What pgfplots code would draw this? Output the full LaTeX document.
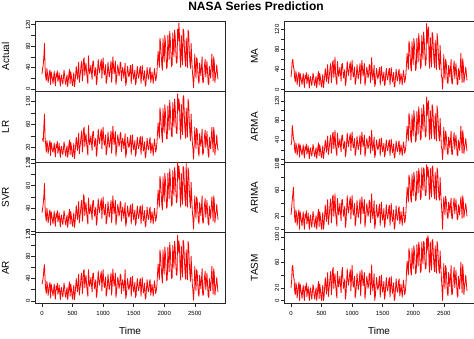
\documentclass[border=0pt]{standalone}
\usepackage{fontspec}
\setmainfont{Liberation Sans}
\usepackage{pgfplots}
\usepackage{pgfplotstable}
\pgfplotsset{compat=1.18}

\pgfplotstableread{
x A LR SVR AR MA ARMA ARIMA TASM
0 28 35 32 30 25 30 22 20
10 38 35 40 36 38 36 33 32
20 45 30 48 42 58 70 45 55
30 60 57 62 58 60 58 55 54
40 85 78 84 65 45 42 65 38
50 40 37 42 38 40 38 35 34
60 22 25 25 20 22 20 18 15
70 15 12 17 13 15 13 10 9
80 38 32 40 35 36 34 30 28
90 28 25 30 26 28 26 23 22
100 12 10 14 10 10 9 6 4
110 20 17 22 18 20 18 15 14
120 30 26 32 28 30 28 25 22
130 35 32 37 33 35 33 30 29
140 8 6 10 5 6 5 0 0
150 32 29 34 30 32 30 27 26
160 25 22 27 24 25 23 20 18
170 18 15 20 16 18 16 13 12
180 10 12 12 9 10 9 5 3
190 22 19 24 20 22 20 17 16
200 33 28 35 30 32 30 27 24
210 15 12 17 13 15 13 10 9
220 6 4 8 3 4 3 0 0
230 28 25 30 26 28 26 23 22
240 22 20 24 20 22 20 18 16
250 34 31 36 32 34 32 29 28
260 14 10 16 12 12 11 8 6
270 20 17 22 18 20 18 15 14
280 30 27 32 28 30 28 25 22
290 16 13 18 14 16 14 11 10
300 5 3 7 2 3 2 0 0
310 22 19 24 20 22 20 17 16
320 26 22 28 24 26 24 22 20
330 14 11 16 12 14 12 9 8
340 9 8 11 7 8 7 3 2
350 20 17 22 18 20 18 15 14
360 35 30 36 32 33 31 28 25
370 25 22 27 23 25 23 20 19
380 12 10 14 10 11 10 6 5
390 8 5 10 6 8 6 3 2
400 20 18 22 18 20 18 15 14
410 26 23 28 24 26 24 21 20
420 4 3 6 2 3 2 0 0
430 15 12 17 13 15 13 10 9
440 28 25 30 26 28 26 24 22
450 36 33 38 34 36 34 31 30
460 10 8 12 8 9 8 4 3
470 32 29 34 30 32 30 27 26
480 24 22 26 22 24 22 20 18
490 12 9 14 10 12 10 7 6
500 6 4 8 3 5 4 0 0
510 20 17 22 18 20 18 15 14
520 30 27 32 28 30 28 26 24
530 4 1 6 2 4 2 0 0
540 12 10 14 10 12 11 6 5
550 26 23 28 24 26 24 21 20
560 42 38 45 40 42 40 38 36
570 30 27 32 28 30 28 25 24
580 18 15 20 16 16 15 12 10
590 35 32 37 33 35 33 30 29
600 50 45 52 48 50 48 46 44
610 12 9 14 10 12 10 7 6
620 22 20 24 20 20 19 17 16
630 32 29 34 30 32 30 27 26
640 45 40 47 44 45 43 40 38
650 52 49 54 50 52 50 47 46
660 15 12 17 13 14 13 10 9
670 28 25 30 26 28 26 23 22
680 55 52 64 54 54 52 50 48
690 58 55 60 56 58 56 53 52
700 25 22 27 23 24 22 20 19
710 40 37 42 38 40 38 35 34
720 48 44 50 46 65 60 55 42
730 30 27 32 28 30 28 25 24
740 20 18 22 18 18 17 15 14
750 10 7 12 8 10 8 5 4
760 62 58 58 56 56 54 48 46
770 40 37 42 38 40 38 35 34
780 28 25 30 26 26 24 22 21
790 35 32 37 33 35 33 30 29
800 44 40 46 42 44 42 40 38
810 30 27 32 28 30 28 25 24
820 18 15 20 16 17 16 13 12
830 50 47 52 48 50 48 45 44
840 52 48 54 50 52 50 46 52
850 38 35 40 36 38 36 33 32
860 24 22 26 22 23 22 20 19
870 32 29 34 30 32 30 27 26
880 40 36 42 38 40 38 36 34
890 8 5 10 6 8 6 3 2
900 14 12 16 12 13 12 10 9
910 36 33 38 34 36 34 31 30
920 55 52 57 54 56 54 52 50
930 40 37 42 38 40 38 35 34
940 30 27 32 28 28 26 25 24
950 38 35 40 36 38 36 33 32
960 48 45 50 46 48 46 44 42
970 55 52 57 53 55 53 50 49
980 20 18 22 18 19 18 16 15
990 42 39 44 40 42 40 37 36
1000 58 55 60 56 58 56 52 55
1010 36 33 38 34 36 34 31 30
1020 26 24 28 24 25 24 22 21
1030 34 31 36 32 34 32 29 28
1040 45 42 47 43 45 43 40 38
1050 10 7 12 8 10 8 5 4
1060 16 14 18 14 15 14 12 11
1070 30 27 32 28 30 28 25 24
1080 50 47 52 48 50 48 45 43
1090 35 32 37 33 35 33 30 29
1100 22 20 24 20 21 20 18 17
1110 30 27 32 28 30 28 25 24
1120 42 38 44 40 42 40 38 36
1130 52 49 54 50 52 50 47 46
1140 12 10 14 10 11 10 8 7
1150 35 32 37 33 35 33 30 29
1160 60 57 62 57 58 56 50 48
1170 42 39 44 40 42 40 37 36
1180 28 25 30 26 27 26 24 23
1190 38 35 40 36 38 36 33 32
1200 52 48 54 50 52 50 46 44
1210 8 5 10 6 8 6 3 2
1220 18 16 20 16 17 16 14 13
1230 32 29 34 30 32 30 27 26
1240 45 42 47 43 45 43 40 38
1250 36 33 38 34 36 34 31 30
1260 24 22 26 22 23 22 20 19
1270 30 27 32 28 30 28 25 24
1280 50 46 52 48 50 48 45 43
1290 48 45 50 46 48 46 43 42
1300 15 13 17 13 14 13 10 9
1310 30 27 32 28 30 28 25 24
1320 40 36 42 38 64 60 55 56
1330 32 29 34 30 32 30 27 26
1340 20 18 22 18 19 18 16 15
1350 34 31 36 32 34 32 29 28
1360 48 44 50 56 48 46 44 42
1370 6 3 8 4 6 4 1 0
1380 12 10 14 10 11 10 8 7
1390 28 25 30 26 28 26 23 22
1400 42 38 44 40 42 40 38 36
1410 32 29 34 30 32 30 27 26
1420 22 20 24 20 21 20 18 17
1430 26 23 28 24 26 24 21 20
1440 38 35 40 36 38 36 34 32
1450 44 41 46 42 44 42 39 38
1460 10 8 12 8 9 8 6 5
1470 28 25 30 26 28 26 23 22
1480 46 42 48 44 46 44 42 40
1490 30 27 32 28 30 28 25 24
1500 18 16 20 16 17 16 14 13
1510 25 22 27 23 25 23 20 19
1520 35 32 37 33 35 33 32 30
1530 8 5 10 6 8 6 3 2
1540 12 10 14 10 11 10 8 7
1550 30 27 32 28 30 28 25 24
1560 42 38 44 40 42 40 38 36
1570 28 25 30 26 28 26 23 22
1580 20 18 22 18 19 18 16 15
1590 26 23 28 24 26 24 21 20
1600 38 35 40 36 38 36 34 32
1610 42 39 44 40 42 40 37 36
1620 10 8 12 8 9 8 6 5
1630 25 22 27 23 25 23 20 19
1640 44 40 46 42 44 42 40 38
1650 30 27 32 28 30 28 25 24
1660 16 14 18 14 15 14 12 11
1670 22 19 24 20 22 20 17 16
1680 34 30 36 32 34 32 30 28
1690 5 2 7 3 5 3 0 0
1700 8 6 10 6 7 6 4 3
1710 24 21 26 22 24 22 19 18
1720 40 36 42 38 40 38 36 34
1730 28 25 30 26 28 26 23 22
1740 18 16 20 16 17 16 14 13
1750 22 19 24 20 22 20 17 16
1760 36 33 38 34 36 34 32 30
1770 40 37 42 38 40 38 35 34
1780 12 10 14 10 11 10 8 7
1790 20 17 22 18 20 18 15 14
1800 32 28 34 30 32 30 28 26
1810 22 19 24 20 22 20 17 16
1820 10 6 12 8 9 8 6 5
1830 25 22 27 23 25 23 20 19
1840 38 35 40 36 38 36 34 32
1850 28 25 30 26 28 26 23 22
1860 15 12 17 13 14 13 10 9
1870 20 17 22 18 20 18 15 14
1880 30 27 32 28 30 28 26 24
1890 50 45 52 48 50 48 45 44
1900 70 62 72 66 72 68 65 62
1910 55 49 57 52 57 55 57 54
1920 40 36 42 38 40 38 42 40
1930 95 89 97 92 97 95 84 82
1940 85 78 88 82 88 84 78 75
1950 65 59 67 62 67 65 64 62
1960 45 42 47 44 45 43 48 46
1970 35 29 37 32 37 35 42 40
1980 95 88 96 92 96 92 85 82
1990 72 66 74 69 74 72 68 66
2000 50 46 52 48 50 48 52 50
2010 100 94 102 97 102 100 88 86
2020 88 80 90 84 90 86 80 78
2030 60 54 62 57 62 60 60 58
2040 38 35 40 36 38 36 44 42
2050 42 36 44 39 44 42 47 45
2060 100 92 102 96 102 98 90 88
2070 78 72 80 75 80 78 73 71
2080 55 50 57 52 55 52 56 54
2090 108 102 110 105 112 108 94 92
2100 92 85 94 90 95 92 86 84
2110 65 59 67 62 67 65 64 62
2120 42 40 44 40 42 40 46 44
2130 45 39 47 42 47 45 50 48
2140 105 98 107 100 108 104 95 92
2150 82 76 84 79 84 82 75 73
2160 60 55 62 58 60 58 60 58
2170 110 104 112 107 115 112 95 93
2180 98 90 100 95 100 96 92 90
2190 70 64 72 67 72 70 67 65
2200 48 45 50 46 48 46 52 50
2210 50 44 52 47 52 50 53 51
2220 112 113 122 118 132 128 100 98
2230 90 84 92 87 92 90 81 79
2240 123 104 115 108 118 112 96 102
2250 100 94 102 97 125 120 88 96
2260 58 52 60 56 58 56 58 56
2270 40 34 42 37 42 40 46 44
2280 100 95 102 98 104 100 94 92
2290 72 66 74 69 74 72 68 66
2300 45 42 47 43 45 43 50 48
2310 112 106 114 109 114 112 96 94
2320 108 110 110 104 110 106 98 96
2330 78 72 80 75 80 78 73 71
2340 55 50 57 52 55 52 56 54
2350 42 36 44 39 44 42 47 45
2360 95 88 120 92 98 94 88 86
2370 68 62 70 65 70 68 66 64
2380 40 38 42 38 40 38 45 43
2390 110 104 112 107 112 110 95 93
2400 105 96 104 100 100 97 90 88
2410 72 66 74 69 74 72 68 66
2420 50 45 52 48 50 48 50 48
2430 38 32 40 35 40 38 45 43
2440 85 78 86 80 88 84 80 78
2450 60 54 62 57 62 60 60 58
2460 35 30 35 30 30 28 40 38
2470 20 18 22 18 22 20 25 22
2480 2 0 3 1 1 0 0 0
2490 25 22 27 23 25 23 28 24
2500 65 55 62 62 70 66 50 58
2510 40 35 42 38 42 40 38 37
2520 20 18 22 18 20 19 22 18
2530 58 53 60 56 60 58 51 55
2540 55 50 56 52 55 52 45 50
2550 32 27 34 30 34 32 32 29
2560 15 12 17 12 14 13 18 12
2570 10 5 12 8 12 10 17 7
2580 48 44 50 46 48 46 42 44
2590 38 33 40 36 40 38 37 35
2600 25 22 27 22 25 24 25 22
2610 40 35 42 38 42 40 38 37
2620 60 52 62 58 60 58 48 55
2630 12 7 14 10 14 12 18 9
2640 12 10 14 10 11 10 16 10
2650 28 23 30 26 30 28 30 25
2660 45 40 47 43 45 43 40 42
2670 55 50 57 53 57 55 48 52
2680 22 20 24 20 22 21 24 20
2690 36 31 38 34 38 36 35 33
2700 52 48 54 50 52 50 46 48
2710 30 25 32 28 32 30 31 27
2720 10 8 12 8 10 9 15 9
2730 8 3 10 6 10 8 16 5
2740 42 38 44 40 42 40 38 38
2750 32 27 34 30 34 32 32 29
2760 20 18 22 18 20 19 22 18
2770 40 35 42 38 42 40 38 37
2780 65 55 60 62 72 68 50 60
2790 38 33 40 36 40 38 37 35
2800 15 12 17 12 14 13 17 12
2810 60 55 62 58 62 60 52 57
2820 50 45 52 48 50 48 44 44
2830 12 7 14 10 14 12 18 9
2840 25 22 27 22 24 23 26 22
2850 32 27 34 30 34 32 32 29
2860 45 42 47 42 45 43 40 40
2870 30 25 32 28 32 30 31 27
2880 18 15 20 16 18 17 20 15
}\data

\pgfplotsset{
  panel/.style={
    scale only axis, width=190pt, height=70.5pt, anchor=south west,
    xmin=-115, xmax=2995,
    axis line style={black!85, line width=0.7pt},
    tick style={black!85, line width=0.5pt},
    tick align=outside, major tick length=3.5pt,
    ytick pos=left, xtick pos=bottom,
    xtick=\empty,
    /pgf/number format/assume math mode=true,
    yticklabel style={rotate=90, anchor=south, inner sep=1pt, font=\fontsize{6}{7}\selectfont},
    every axis y label/.style={at={(axis description cs:-0.155,0.5)}, rotate=90, anchor=center, font=\fontsize{10}{12}\selectfont},
  },
  bottom/.style={
    xtick={0,500,1000,1500,2000,2500},
    xticklabels={0,500,1000,1500,2000,2500},
    xticklabel style={font=\fontsize{6}{7}\selectfont, inner sep=1pt, yshift=-4pt},
    xlabel={Time},
    every axis x label/.style={at={(axis description cs:0.5,-0.39)}, anchor=center, font=\fontsize{10}{12}\selectfont},
  },
  t120/.style={ytick={0,20,...,120}, yticklabels={0,,40,,80,,120}},
  t100/.style={ytick={0,20,...,100}, yticklabels={0,20,,60,,100}},
  ser/.style={red, line width=0.8pt, line join=round},
}

\begin{document}
\begin{tikzpicture}
\path[use as bounding box] (0,0) rectangle (474pt,338pt);

\begin{axis}[panel, t120, at={(35pt,246.5pt)}, ymin=-5, ymax=127, ylabel={Actual}]
\addplot[ser] table[x=x, y=A] {\data};
\end{axis}
\begin{axis}[panel, t100, at={(35pt,176pt)}, ymin=-5, ymax=117, ylabel={LR}]
\addplot[ser] table[x=x, y=LR] {\data};
\end{axis}
\begin{axis}[panel, t120, at={(35pt,105.5pt)}, ymin=-3, ymax=122, ylabel={SVR}]
\addplot[ser] table[x=x, y=SVR] {\data};
\end{axis}
\begin{axis}[panel, t120, bottom, at={(35pt,35pt)}, ymin=-4, ymax=123, ylabel={AR}]
\addplot[ser] table[x=x, y=AR] {\data};
\end{axis}

\begin{axis}[panel, t120, at={(284pt,246.5pt)}, ymin=-4, ymax=137, ylabel={MA}]
\addplot[ser] table[x=x, y=MA] {\data};
\end{axis}
\begin{axis}[panel, t120, at={(284pt,176pt)}, ymin=-5, ymax=139, ylabel={ARMA}]
\addplot[ser] table[x=x, y=ARMA] {\data};
\end{axis}
\begin{axis}[panel, t100, at={(284pt,105.5pt)}, ymin=-5, ymax=104, ylabel={ARIMA}]
\addplot[ser] table[x=x, y=ARIMA] {\data};
\end{axis}
\begin{axis}[panel, t100, bottom, at={(284pt,35pt)}, ymin=-4, ymax=107, ylabel={TASM}]
\addplot[ser] table[x=x, y=TASM] {\data};
\end{axis}

\node[font=\bfseries\fontsize{12}{14}\selectfont] at (256pt,331.3pt) {NASA Series Prediction};
\end{tikzpicture}
\end{document}
